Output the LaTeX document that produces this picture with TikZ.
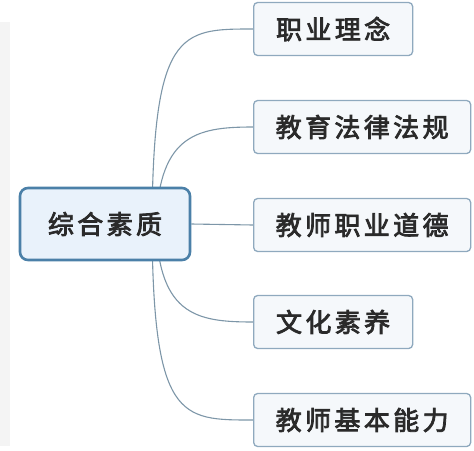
\documentclass[tikz,border=0pt]{standalone}
\usepackage{fontspec}
\newfontfamily\cjk[LetterSpace=13,FakeBold=3]{Noto Sans CJK SC}
\usetikzlibrary{backgrounds}
\definecolor{rootfill}{HTML}{E9F2FB}
\definecolor{rootline}{HTML}{4B80A8}
\definecolor{leaffill}{HTML}{F5F8FB}
\definecolor{leafline}{HTML}{8FA9BE}
\definecolor{linkc}{HTML}{7D96A8}
\definecolor{txt}{HTML}{2A2A2A}
\definecolor{strip}{HTML}{F4F4F4}
\tikzset{
  rootbox/.style={draw=rootline, line width=2.6pt, fill=rootfill, rounded corners=8pt,
    minimum width=170pt, minimum height=72pt, inner sep=0pt,
    font=\cjk\fontsize{26pt}{27pt}\selectfont, text=txt},
  leafbox/.style={draw=leafline, line width=1.3pt, fill=leaffill, rounded corners=4pt,
    minimum height=53pt, inner sep=0pt, anchor=west,
    font=\cjk\fontsize{26pt}{27pt}\selectfont, text=txt},
  shortleaf/.style={leafbox, minimum width=159pt},
  longleaf/.style={leafbox, minimum width=217pt},
  link/.style={draw=linkc, line width=1.1pt}
}
\begin{document}
\begin{tikzpicture}[x=1pt,y=-1pt]
\useasboundingbox (0,0) rectangle (474,450);
\fill[strip] (0,22) rectangle (10,446);
\node[rootbox] (root) at (105,224) {综合素质};
\node[shortleaf] (l1) at (253,29) {职业理念};
\node[longleaf] (l2) at (253,127) {教育法律法规};
\node[longleaf] (l3) at (253,225) {教师职业道德};
\node[shortleaf] (l4) at (253,322) {文化素养};
\node[longleaf] (l5) at (253,420) {教师基本能力};
\coordinate (h1) at (152,235);
\coordinate (h2) at (156,235);
\coordinate (h4) at (156,215);
\coordinate (h5) at (152,215);
\begin{scope}[on background layer]
\draw[link] (h1) .. controls +(0,-206) and +(-73,0) .. (l1.west);
\draw[link] (h2) .. controls +(0,-100) and +(-58,0) .. (l2.west);
\draw[link] (root.east) -- (l3.west);
\draw[link] (h4) .. controls +(0,100) and +(-58,0) .. (l4.west);
\draw[link] (h5) .. controls +(0,206) and +(-73,0) .. (l5.west);
\end{scope}
\end{tikzpicture}
\end{document}
